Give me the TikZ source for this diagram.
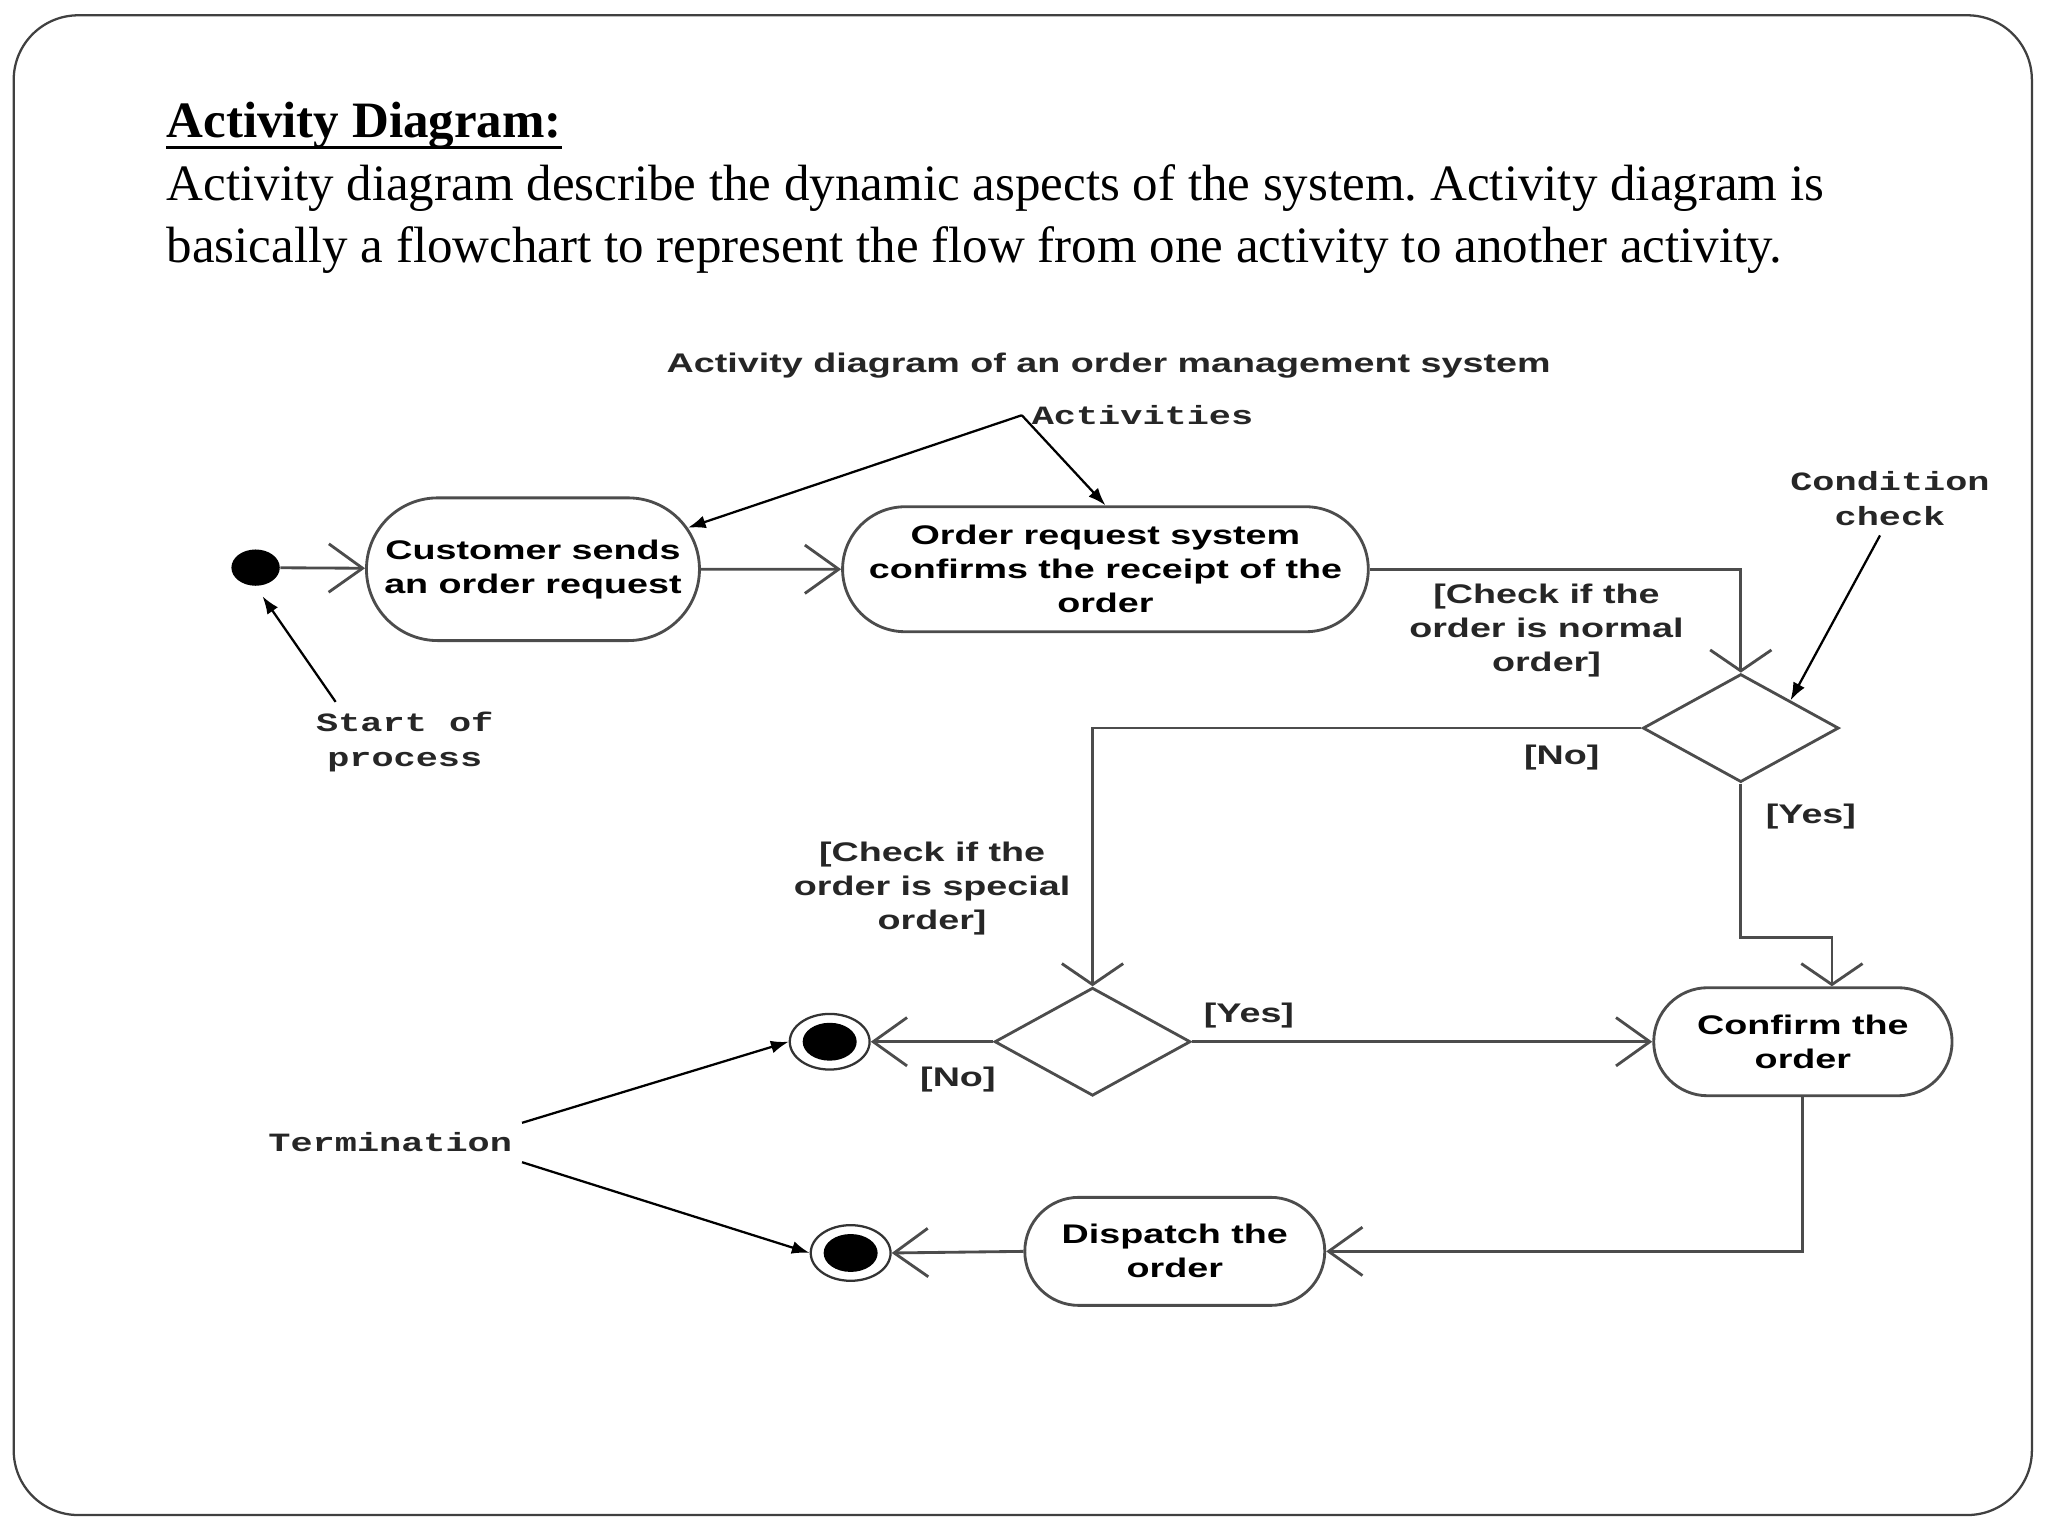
\documentclass[tikz,border=0pt]{standalone}
\usepackage{fontspec}
\setmainfont{Liberation Serif}
\newfontfamily\diagfont[FakeStretch=1.4]{Liberation Sans}
\newfontfamily\notefont[FakeStretch=1.4]{Liberation Mono}
\usetikzlibrary{shapes,arrows.meta,positioning,calc}
\frenchspacing

\begin{document}
\begin{tikzpicture}[
        activity/.style={draw=black!70, line width=1pt, rounded rectangle, align=center, inner sep=0pt, font=\diagfont\bfseries\fontsize{9.5}{12}\selectfont},
        decision/.style={draw=black!70, line width=1pt, diamond, inner sep=0pt, minimum width=2.43cm, minimum height=1.34cm},
        guard/.style={align=center, text=black!85, font=\diagfont\bfseries\fontsize{9.5}{12}\selectfont},
        note/.style={align=center, text=black!85, font=\notefont\bfseries\fontsize{9.3}{12.3}\selectfont},
        flow/.style={draw=black!70, line width=1pt, -{Straight Barb[length=4.2mm,width=6mm]}},
        flowdown/.style={draw=black!70, line width=1pt, -{Straight Barb[length=2.6mm,width=7.6mm]}},
        pointer/.style={draw=black, line width=0.8pt, -{Latex[length=2.2mm,width=1.6mm]}},
        enddot/.style={draw=black!80, line width=0.8pt, ellipse, inner sep=0pt, minimum width=0.99cm, minimum height=0.69cm,
            path picture={\fill[black] (path picture bounding box.center) ellipse [x radius=0.335cm, y radius=0.235cm];}}
    ]
        \useasboundingbox (0,0) rectangle (25.4,19.05);

        % Slide frame and text
        \draw[black!75, line width=0.8pt, rounded corners=0.8cm] (0.17,0.26) rectangle (25.20,18.86);
        \node[anchor=base west, inner sep=0pt, font=\fontsize{18}{21.6}\selectfont\bfseries] (head) at (2.06,17.34) {Activity Diagram:};
        \draw[line width=1.3pt] ([yshift=-0.12cm]head.base west) -- ([yshift=-0.12cm]head.base east);
        \node[anchor=base west, inner sep=0pt, font=\fontsize{18}{21.6}\selectfont] (intro1) at (2.06,16.56) {Activity diagram describe the dynamic aspects of the system. Activity diagram is};
        \node[anchor=base west, inner sep=0pt, font=\fontsize{18}{21.6}\selectfont] (intro2) at (2.06,15.79) {basically a flowchart to represent the flow from one activity to another activity.};

        % Diagram title
        \node[guard] (dtitle) at (13.75,14.51) {Activity diagram of an order management system};

        % Activities and decisions
        \node[fill=black, ellipse, inner sep=0pt, minimum width=0.6cm, minimum height=0.45cm] (start) at (3.17,12.01) {};
        \node[activity, minimum width=4.13cm, minimum height=1.77cm] (cust) at (6.61,11.99) {Customer sends\\an order request};
        \node[activity, minimum width=6.52cm, minimum height=1.55cm] (ord) at (13.71,11.99) {Order request system\\confirms the receipt of the\\order};
        \node[decision] (dec1) at (21.59,10.02) {};
        \node[decision] (dec2) at (13.55,6.13) {};
        \node[activity, minimum width=3.70cm, minimum height=1.34cm] (conf) at (22.36,6.13) {Confirm the\\order};
        \node[activity, minimum width=3.72cm, minimum height=1.34cm] (disp) at (14.57,3.53) {Dispatch the\\order};
        \node[enddot] (end1) at (10.29,6.13) {};
        \node[enddot] (end2) at (10.55,3.51) {};

        % Flows
        \draw[flow] (start) -- (cust);
        \draw[flow] (cust) -- (ord);
        \draw[flowdown] (ord.east) -| (dec1.north);
        \draw[flowdown] (dec1.west) -| (dec2.north);
        \draw[flowdown] (dec1.south) -- ++(0,-1.91) -| ([xshift=0.36cm]conf.north);
        \draw[flow] (dec2.east) -- (conf.west);
        \draw[flow] (dec2.west) -- (end1.east);
        \draw[flow] (conf.south) |- (disp.east);
        \draw[flow] (disp.west) -- (end2.east);

        % Guards
        \node[guard] (normal) at (19.18,11.23) {[Check if the\\order is normal\\order]};
        \node[guard] (special) at (11.56,8.03) {[Check if the\\order is special\\order]};
        \node[guard] (no1) at (19.37,9.65) {[No]};
        \node[guard] (yes1) at (22.46,8.92) {[Yes]};
        \node[guard] (yes2) at (15.49,6.46) {[Yes]};
        \node[guard] (no2) at (11.88,5.66) {[No]};

        % Notes
        \node[note] (actlbl) at (14.17,13.90) {Activities};
        \node[note] (startlbl) at (5.02,9.85) {Start of\\process};
        \node[note] (condlbl) at (23.44,12.87) {Condition\\check};
        \node[note] (termlbl) at (4.84,4.88) {Termination};
        \draw[pointer] (actlbl.west) -- (cust.15);
        \draw[pointer] (actlbl.west) -- (ord.north);
        \draw[pointer, shorten >=1.5mm] (startlbl.150) -- (start.south);
        \draw[pointer] (condlbl.255) -- (dec1.north east);
        \draw[pointer] (termlbl.north east) -- (end1.west);
        \draw[pointer] (termlbl.south east) -- (end2.west);

    \end{tikzpicture}
\end{document}
